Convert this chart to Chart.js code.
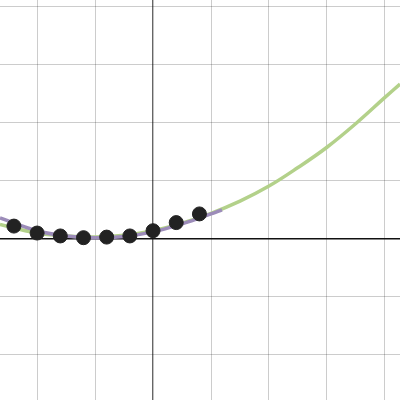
<!DOCTYPE html>
<html><head><style>html,body{margin:0;padding:0;background:#fff}#w{width:400px;height:400px}</style>
<script src="https://cdn.jsdelivr.net/npm/chart.js@4"></script></head>
<body><div id="w"><canvas id="c"></canvas></div>
<script>
const dotX=[-2.4,-2.0,-1.6,-1.2,-0.8,-0.4,0,0.4,0.8];
const dotY=[0.22,0.10,0.05,0.02,0.03,0.05,0.14,0.28,0.43];
const greenX=[-2.64,-2,-1.5,-1,-0.5,0,0.5,1,1.5,2,2.5,3,3.5,4,4.26];
const greenY=[0.25,0.10,0.05,0.03,0.06,0.14,0.27,0.44,0.65,0.91,1.23,1.58,1.99,2.44,2.67];
const purpleX=[-2.64,-2,-1.5,-1,-0.5,0,0.5,1,1.19];
const purpleY=[0.36,0.14,0.05,0.02,0.04,0.12,0.26,0.43,0.50];
const gridX=[-2,-1,0,1,2,3,4];
const gridY=[-2,-1,0,1,2,3,4];
const pts=(xs,ys)=>xs.map((x,i)=>({x,y:ys[i]}));
const mk=(zc)=>({color:c=>c.tick&&c.tick.value===0?zc:'rgba(0,0,0,0.2)',lineWidth:c=>c.tick&&c.tick.value===0?1.4:1,drawTicks:false});
new Chart(document.getElementById('c'),{
type:'scatter',
data:{datasets:[
{data:pts(dotX,dotY),pointRadius:7,pointBackgroundColor:'#222',pointBorderColor:'#222',showLine:false,order:0},
{data:pts(purpleX,purpleY),showLine:true,borderColor:'#9c8cb9',borderWidth:3.5,pointRadius:0,tension:0.4,order:1},
{data:pts(greenX,greenY),showLine:true,borderColor:'#b3d18a',borderWidth:3.5,pointRadius:0,tension:0.4,order:2}
]},
options:{responsive:true,maintainAspectRatio:false,animation:false,layout:{padding:0,autoPadding:false},
plugins:{legend:{display:false},tooltip:{enabled:false}},
scales:{
x:{type:'linear',min:-2.64,max:4.26,ticks:{display:false,padding:0},border:{display:false},grid:mk('#666'),
 afterBuildTicks:s=>{s.ticks=gridX.map(v=>({value:v}))},afterFit:s=>{s.height=0}},
y:{type:'linear',min:-2.78,max:4.12,ticks:{display:false,padding:0},border:{display:false},grid:mk('#111'),
 afterBuildTicks:s=>{s.ticks=gridY.map(v=>({value:v}))},afterFit:s=>{s.width=0}}
}}});
</script></body></html>
